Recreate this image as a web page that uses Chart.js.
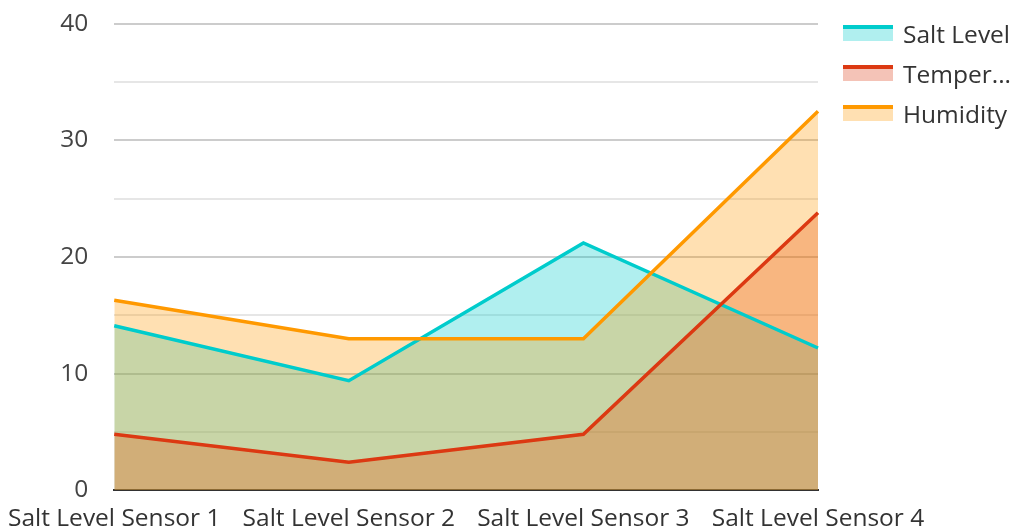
<!DOCTYPE html>
<html>
<head>
<meta charset="utf-8">
<script src="https://cdn.jsdelivr.net/npm/chart.js@4"></script>
<style>
    body { margin: 0; background: #fff; font-family: "Open Sans", sans-serif; overflow: hidden; }
    #wrap { position: relative; width: 1015px; height: 531px; overflow: hidden; }
    #chart { position: absolute; left: 0; top: -17px; }
    #legend { position: absolute; left: 843px; top: 13px; }
    .item { display: flex; align-items: center; height: 40px; font-size: 24.5px; color: #333; white-space: nowrap; }
    .swatch { width: 50px; height: 16px; margin-right: 10px; box-sizing: border-box; }
</style>
</head>
<body>
<div id="wrap">
    <canvas id="chart" width="1015" height="548"></canvas>
    <div id="legend"></div>
</div>
<script>
const categories = ['Salt Level Sensor 1', 'Salt Level Sensor 2', 'Salt Level Sensor 3', 'Salt Level Sensor 4'];
const saltLevel = [14.1, 9.4, 21.2, 12.2];
const temperature = [4.8, 2.4, 4.8, 23.8];
const humidity = [16.3, 13.0, 13.0, 32.5];
const seriesNames = ['Salt Level', 'Temperature', 'Humidity'];
const seriesColors = ['#00cccc', '#dc3912', '#ff9900'];
const fillColors = ['rgba(0,204,204,0.31)', 'rgba(220,57,18,0.3)', 'rgba(255,153,0,0.3)'];
// draw order: salt level fill first, humidity last
const drawOrder = [3, 2, 1];

const allSeries = [saltLevel, temperature, humidity];

const datasets = allSeries.map((vals, i) => ({
    label: seriesNames[i],
    data: vals,
    borderColor: seriesColors[i],
    backgroundColor: fillColors[i],
    borderWidth: 3.5,
    fill: 'origin',
    order: drawOrder[i],
    pointRadius: 0,
    tension: 0
}));

new Chart(document.getElementById('chart'), {
    type: 'line',
    data: { labels: categories, datasets: datasets },
    options: {
        responsive: false,
        animation: false,
        layout: { padding: { top: 0, right: 197, bottom: -18, left: 6 } },
        plugins: {
            legend: { display: false },
            tooltip: { enabled: false },
            filler: { drawTime: 'beforeDatasetsDraw' }
        },
        scales: {
            x: {
                offset: false,
                grid: { display: false },
                border: { display: true, color: '#333', width: 2 },
                ticks: {
                    color: '#333',
                    font: { family: 'Open Sans', size: 24.5, lineHeight: 1 },
                    maxRotation: 0,
                    autoSkip: false,
                    padding: 8
                }
            },
            y: {
                min: 0,
                max: 40,
                border: { display: false },
                grid: {
                    color: ctx => ctx.tick.value % 10 === 0 ? '#cccccc' : '#e6e6e6',
                    lineWidth: 2,
                    drawTicks: false
                },
                ticks: {
                    stepSize: 5,
                    color: '#444',
                    padding: 26,
                    font: { family: 'Open Sans', size: 24.5 },
                    callback: v => v % 10 === 0 ? v : ''
                }
            }
        }
    }
});

// legend in html
const legend = document.getElementById('legend');
seriesNames.forEach((name, i) => {
    const item = document.createElement('div');
    item.className = 'item';
    const sw = document.createElement('div');
    sw.className = 'swatch';
    sw.style.background = fillColors[i];
    sw.style.borderTop = '4px solid ' + seriesColors[i];
    const txt = document.createElement('span');
    txt.textContent = name.length > 10 ? name.slice(0, 6) + '...' : name;
    item.appendChild(sw);
    item.appendChild(txt);
    legend.appendChild(item);
});
</script>
</body>
</html>
